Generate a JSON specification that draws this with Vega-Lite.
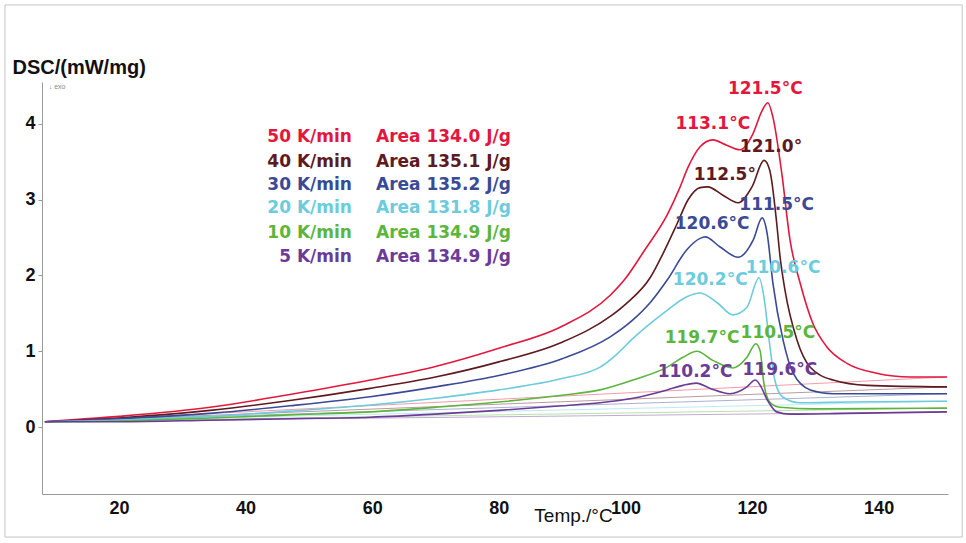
{
 "$schema": "https://vega.github.io/schema/vega-lite/v6.json",
 "width": 906, "height": 412,
 "autosize": {"type": "none"},
 "padding": {"left": 42, "top": 82, "right": 18, "bottom": 49},
 "background": "white",
 "config": {"view": {"stroke": null}, "font": "Liberation Sans"},
 "datasets": {
  "curves": [
   {"r":"50 K/min","T":8.3,"v":0.07},{"r":"50 K/min","T":20,"v":0.14},{"r":"50 K/min","T":34.4,"v":0.26},{"r":"50 K/min","T":47,"v":0.43},{"r":"50 K/min","T":59.7,"v":0.62},{"r":"50 K/min","T":70,"v":0.8},{"r":"50 K/min","T":80,"v":1.04},{"r":"50 K/min","T":90,"v":1.33},{"r":"50 K/min","T":97.6,"v":1.74},{"r":"50 K/min","T":100,"v":1.96},{"r":"50 K/min","T":103,"v":2.33},{"r":"50 K/min","T":106.6,"v":2.8},{"r":"50 K/min","T":108.5,"v":3.14},{"r":"50 K/min","T":109.9,"v":3.43},{"r":"50 K/min","T":111.8,"v":3.7},{"r":"50 K/min","T":113.8,"v":3.79},{"r":"50 K/min","T":116,"v":3.72},{"r":"50 K/min","T":118.1,"v":3.66},{"r":"50 K/min","T":120.2,"v":3.88},{"r":"50 K/min","T":121.5,"v":4.16},{"r":"50 K/min","T":122.5,"v":4.28},{"r":"50 K/min","T":123.3,"v":4.09},{"r":"50 K/min","T":124.7,"v":3.35},{"r":"50 K/min","T":126,"v":2.47},{"r":"50 K/min","T":127.6,"v":1.9},{"r":"50 K/min","T":129.6,"v":1.37},{"r":"50 K/min","T":131.8,"v":1.06},{"r":"50 K/min","T":135,"v":0.84},{"r":"50 K/min","T":139.7,"v":0.71},{"r":"50 K/min","T":145,"v":0.66},{"r":"50 K/min","T":150.8,"v":0.66},
   {"r":"40 K/min","T":8.3,"v":0.07},{"r":"40 K/min","T":20,"v":0.12},{"r":"40 K/min","T":34.4,"v":0.22},{"r":"40 K/min","T":47,"v":0.35},{"r":"40 K/min","T":59.7,"v":0.51},{"r":"40 K/min","T":70,"v":0.66},{"r":"40 K/min","T":80,"v":0.86},{"r":"40 K/min","T":90,"v":1.12},{"r":"40 K/min","T":97.6,"v":1.46},{"r":"40 K/min","T":100,"v":1.62},{"r":"40 K/min","T":103.9,"v":1.97},{"r":"40 K/min","T":106,"v":2.3},{"r":"40 K/min","T":108.2,"v":2.69},{"r":"40 K/min","T":109.9,"v":3.0},{"r":"40 K/min","T":111.8,"v":3.16},{"r":"40 K/min","T":113,"v":3.17},{"r":"40 K/min","T":115.4,"v":3.06},{"r":"40 K/min","T":117.8,"v":2.96},{"r":"40 K/min","T":120,"v":3.17},{"r":"40 K/min","T":121.9,"v":3.52},{"r":"40 K/min","T":122.8,"v":3.39},{"r":"40 K/min","T":123.9,"v":2.69},{"r":"40 K/min","T":124.4,"v":2.27},{"r":"40 K/min","T":125.2,"v":1.81},{"r":"40 K/min","T":127.1,"v":1.15},{"r":"40 K/min","T":129.2,"v":0.79},{"r":"40 K/min","T":132.8,"v":0.62},{"r":"40 K/min","T":138.2,"v":0.55},{"r":"40 K/min","T":150.8,"v":0.53},
   {"r":"30 K/min","T":8.3,"v":0.07},{"r":"30 K/min","T":20,"v":0.11},{"r":"30 K/min","T":34.4,"v":0.18},{"r":"30 K/min","T":47,"v":0.28},{"r":"30 K/min","T":59.7,"v":0.4},{"r":"30 K/min","T":70,"v":0.53},{"r":"30 K/min","T":80,"v":0.68},{"r":"30 K/min","T":90,"v":0.9},{"r":"30 K/min","T":97.6,"v":1.19},{"r":"30 K/min","T":101,"v":1.4},{"r":"30 K/min","T":104,"v":1.65},{"r":"30 K/min","T":106.6,"v":1.94},{"r":"30 K/min","T":109.7,"v":2.34},{"r":"30 K/min","T":111.8,"v":2.49},{"r":"30 K/min","T":112.6,"v":2.51},{"r":"30 K/min","T":114.9,"v":2.38},{"r":"30 K/min","T":117.8,"v":2.24},{"r":"30 K/min","T":120.2,"v":2.47},{"r":"30 K/min","T":121.6,"v":2.76},{"r":"30 K/min","T":122.4,"v":2.55},{"r":"30 K/min","T":123.3,"v":1.9},{"r":"30 K/min","T":124.9,"v":1.15},{"r":"30 K/min","T":126.5,"v":0.71},{"r":"30 K/min","T":129.2,"v":0.49},{"r":"30 K/min","T":132.8,"v":0.44},{"r":"30 K/min","T":150.8,"v":0.44},
   {"r":"20 K/min","T":8.3,"v":0.07},{"r":"20 K/min","T":20,"v":0.09},{"r":"20 K/min","T":34.4,"v":0.14},{"r":"20 K/min","T":47,"v":0.21},{"r":"20 K/min","T":59.7,"v":0.29},{"r":"20 K/min","T":70,"v":0.38},{"r":"20 K/min","T":80,"v":0.49},{"r":"20 K/min","T":90,"v":0.64},{"r":"20 K/min","T":96,"v":0.79},{"r":"20 K/min","T":98.5,"v":0.95},{"r":"20 K/min","T":101.2,"v":1.17},{"r":"20 K/min","T":106.6,"v":1.54},{"r":"20 K/min","T":109.7,"v":1.72},{"r":"20 K/min","T":111.8,"v":1.77},{"r":"20 K/min","T":114.5,"v":1.64},{"r":"20 K/min","T":117,"v":1.48},{"r":"20 K/min","T":119.2,"v":1.58},{"r":"20 K/min","T":121.1,"v":1.97},{"r":"20 K/min","T":122,"v":1.65},{"r":"20 K/min","T":122.7,"v":1.15},{"r":"20 K/min","T":123.6,"v":0.62},{"r":"20 K/min","T":124.8,"v":0.4},{"r":"20 K/min","T":127.6,"v":0.32},{"r":"20 K/min","T":135,"v":0.33},{"r":"20 K/min","T":150.8,"v":0.34},
   {"r":"10 K/min","T":8.3,"v":0.07},{"r":"10 K/min","T":20,"v":0.08},{"r":"10 K/min","T":34.4,"v":0.12},{"r":"10 K/min","T":47,"v":0.16},{"r":"10 K/min","T":59.7,"v":0.2},{"r":"10 K/min","T":70,"v":0.26},{"r":"10 K/min","T":80,"v":0.33},{"r":"10 K/min","T":90,"v":0.42},{"r":"10 K/min","T":96,"v":0.49},{"r":"10 K/min","T":101.2,"v":0.62},{"r":"10 K/min","T":106.6,"v":0.79},{"r":"10 K/min","T":109.1,"v":0.92},{"r":"10 K/min","T":111.3,"v":1.0},{"r":"10 K/min","T":113.8,"v":0.88},{"r":"10 K/min","T":117,"v":0.78},{"r":"10 K/min","T":119.2,"v":0.92},{"r":"10 K/min","T":120.6,"v":1.1},{"r":"10 K/min","T":121.3,"v":1.0},{"r":"10 K/min","T":121.8,"v":0.62},{"r":"10 K/min","T":122.8,"v":0.33},{"r":"10 K/min","T":124.4,"v":0.26},{"r":"10 K/min","T":130,"v":0.24},{"r":"10 K/min","T":150.8,"v":0.25},
   {"r":"5 K/min","T":8.3,"v":0.07},{"r":"5 K/min","T":20,"v":0.07},{"r":"5 K/min","T":34.4,"v":0.09},{"r":"5 K/min","T":47,"v":0.11},{"r":"5 K/min","T":59.7,"v":0.13},{"r":"5 K/min","T":70,"v":0.17},{"r":"5 K/min","T":80,"v":0.22},{"r":"5 K/min","T":90,"v":0.28},{"r":"5 K/min","T":96,"v":0.32},{"r":"5 K/min","T":101.2,"v":0.38},{"r":"5 K/min","T":106.6,"v":0.49},{"r":"5 K/min","T":109.1,"v":0.55},{"r":"5 K/min","T":111.2,"v":0.58},{"r":"5 K/min","T":113.4,"v":0.51},{"r":"5 K/min","T":116.5,"v":0.44},{"r":"5 K/min","T":119.2,"v":0.53},{"r":"5 K/min","T":120.5,"v":0.62},{"r":"5 K/min","T":121.3,"v":0.55},{"r":"5 K/min","T":122.4,"v":0.36},{"r":"5 K/min","T":123.9,"v":0.2},{"r":"5 K/min","T":126,"v":0.17},{"r":"5 K/min","T":135,"v":0.18},{"r":"5 K/min","T":150.8,"v":0.2}
  ],
  "baselines": [
   {"r":"50 K/min","T":8.3,"v":0.07},{"r":"50 K/min","T":150.8,"v":0.66},
   {"r":"40 K/min","T":8.3,"v":0.07},{"r":"40 K/min","T":150.8,"v":0.53},
   {"r":"30 K/min","T":8.3,"v":0.07},{"r":"30 K/min","T":150.8,"v":0.44},
   {"r":"20 K/min","T":8.3,"v":0.07},{"r":"20 K/min","T":150.8,"v":0.34},
   {"r":"10 K/min","T":8.3,"v":0.07},{"r":"10 K/min","T":150.8,"v":0.25},
   {"r":"5 K/min","T":8.3,"v":0.07},{"r":"5 K/min","T":150.8,"v":0.2}
  ],
  "legend": [
   {"r":"50 K/min","area":"Area 134.0 J/g","v":3.83},
   {"r":"40 K/min","area":"Area 135.1 J/g","v":3.5},
   {"r":"30 K/min","area":"Area 135.2 J/g","v":3.19},
   {"r":"20 K/min","area":"Area 131.8 J/g","v":2.89},
   {"r":"10 K/min","area":"Area 134.9 J/g","v":2.56},
   {"r":"5 K/min","area":"Area 134.9 J/g","v":2.24}
  ],
  "peaks": [
   {"r":"50 K/min","label":"121.5°C","T":122.1,"v":4.46},
   {"r":"50 K/min","label":"113.1°C","T":113.8,"v":4.0},
   {"r":"40 K/min","label":"121.0°","T":123.0,"v":3.7},
   {"r":"40 K/min","label":"112.5°","T":115.7,"v":3.33},
   {"r":"30 K/min","label":"111.5°C","T":123.9,"v":2.93},
   {"r":"30 K/min","label":"120.6°C","T":113.7,"v":2.68},
   {"r":"20 K/min","label":"110.6°C","T":124.9,"v":2.1},
   {"r":"20 K/min","label":"120.2°C","T":113.4,"v":1.94},
   {"r":"10 K/min","label":"110.5°C","T":124.1,"v":1.24},
   {"r":"10 K/min","label":"119.7°C","T":112.1,"v":1.18},
   {"r":"5 K/min","label":"119.6°C","T":124.4,"v":0.75},
   {"r":"5 K/min","label":"110.2°C","T":111.0,"v":0.73}
  ]
 },
 "layer": [
  {
   "data": {"values": [{}]},
   "mark": {"type": "rect", "filled": false, "stroke": "#c4c4c4", "strokeWidth": 1, "clip": false},
   "encoding": {
    "x": {"datum": 1.99, "type": "quantitative", "scale": {"domain": [7.84, 150.96], "nice": false, "zero": false}},
    "x2": {"datum": 153.2},
    "y": {"datum": -1.452, "type": "quantitative", "scale": {"domain": [-0.884, 4.554], "nice": false, "zero": false}},
    "y2": {"datum": 5.571}
   }
  },
  {
   "data": {"name": "baselines"},
   "mark": {"type": "line", "strokeWidth": 0.8, "opacity": 0.55},
   "encoding": {
    "x": {"field": "T", "type": "quantitative"},
    "y": {"field": "v", "type": "quantitative"},
    "color": {"field": "r", "type": "nominal", "legend": null,
     "scale": {"domain": ["50 K/min","40 K/min","30 K/min","20 K/min","10 K/min","5 K/min"],
               "range": ["#e3173e","#5e1a1e","#3b4a95","#6ccbdc","#5cb53c","#6b3b96"]}}
   }
  },
  {
   "data": {"name": "curves"},
   "mark": {"type": "line", "strokeWidth": 1.6, "interpolate": "monotone"},
   "encoding": {
    "x": {"field": "T", "type": "quantitative",
     "axis": {"values": [20,40,60,80,100,120,140], "grid": false, "ticks": false,
      "domainColor": "#9a9a9a", "labelFont": "Liberation Sans", "labelFontSize": 18, "labelFontWeight": "bold",
      "labelColor": "#111111", "labelPadding": 5, "title": "Temp./°C", "titleFont": "Liberation Sans",
      "titleFontWeight": "normal", "titleFontSize": 19, "titleColor": "#111111",
      "titleX": 531, "titleY": 21, "titleBaseline": "middle", "titleAlign": "center"}},
    "y": {"field": "v", "type": "quantitative",
     "axis": {"values": [0,1,2,3,4], "format": "d", "grid": false, "tickSize": 4, "tickColor": "#9a9a9a",
      "domainColor": "#9a9a9a", "labelFont": "Liberation Sans", "labelFontSize": 18, "labelFontWeight": "bold",
      "labelColor": "#111111", "labelPadding": 3, "title": "DSC/(mW/mg)", "titleFont": "Liberation Sans",
      "titleAngle": 0, "titleAlign": "left", "titleBaseline": "middle", "titleX": -30, "titleY": -15,
      "titleFontSize": 20, "titleFontWeight": "bold", "titleColor": "#111111"}},
    "color": {"field": "r", "type": "nominal", "legend": null}
   }
  },
  {
   "data": {"name": "legend"},
   "mark": {"type": "text", "align": "right", "baseline": "middle", "font": "DejaVu Sans", "fontSize": 17, "fontWeight": "bold"},
   "encoding": {
    "x": {"datum": 56.8, "type": "quantitative"},
    "y": {"field": "v", "type": "quantitative"},
    "text": {"field": "r"},
    "color": {"field": "r", "type": "nominal", "legend": null}
   }
  },
  {
   "data": {"name": "legend"},
   "mark": {"type": "text", "align": "left", "baseline": "middle", "font": "DejaVu Sans", "fontSize": 17, "fontWeight": "bold"},
   "encoding": {
    "x": {"datum": 60.6, "type": "quantitative"},
    "y": {"field": "v", "type": "quantitative"},
    "text": {"field": "area"},
    "color": {"field": "r", "type": "nominal", "legend": null}
   }
  },
  {
   "data": {"name": "peaks"},
   "mark": {"type": "text", "align": "center", "baseline": "middle", "font": "DejaVu Sans", "fontSize": 17, "fontWeight": "bold"},
   "encoding": {
    "x": {"field": "T", "type": "quantitative"},
    "y": {"field": "v", "type": "quantitative"},
    "text": {"field": "label"},
    "color": {"field": "r", "type": "nominal", "legend": null}
   }
  },
  {
   "data": {"values": [{"t": "↓ exo"}]},
   "mark": {"type": "text", "align": "left", "baseline": "middle", "fontSize": 7, "color": "#888888"},
   "encoding": {
    "x": {"datum": 8.9, "type": "quantitative"},
    "y": {"datum": 4.49, "type": "quantitative"},
    "text": {"field": "t"}
   }
  }
 ]
}
